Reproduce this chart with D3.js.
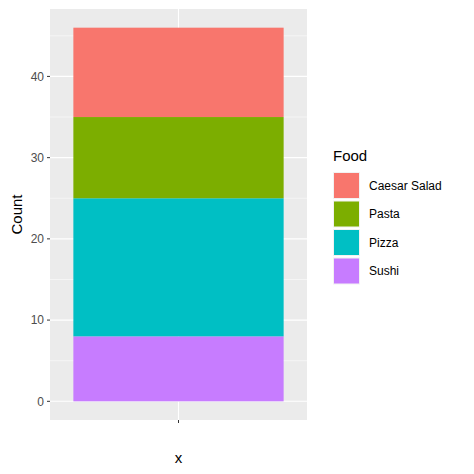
<!DOCTYPE html><html><head><script src="https://cdn.jsdelivr.net/npm/d3@7"></script>
<style>body{margin:0;background:#fff}text{font-family:"Liberation Sans",Arial,sans-serif}</style></head><body>
<svg width="474" height="474"></svg>
<script>
const foods=["Caesar Salad","Pasta","Pizza","Sushi"];
const counts=[11,10,17,8];
const colors=["#F8766D","#7CAE00","#00BFC4","#C77CFF"];
const yTicks=[0,10,20,30,40];
const svg=d3.select("svg");
const L=50,R=307,T=9,B=420;
const total=d3.sum(counts);
const y=d3.scaleLinear().domain([-total*0.05,total*1.05]).range([B,T]);
const x=d3.scaleBand().domain(["x"]).range([L,R]).padding(0.1);
svg.append("rect").attr("x",L).attr("y",T).attr("width",R-L).attr("height",B-T).attr("fill","#EBEBEB");
[5,15,25,35,45].forEach(v=>svg.append("line").attr("x1",L).attr("x2",R).attr("y1",y(v)).attr("y2",y(v)).attr("stroke","#fff").attr("stroke-width",0.5));
yTicks.forEach(v=>svg.append("line").attr("x1",L).attr("x2",R).attr("y1",y(v)).attr("y2",y(v)).attr("stroke","#fff").attr("stroke-width",1.1));
const cx=x("x")+x.bandwidth()/2;
svg.append("line").attr("x1",cx).attr("x2",cx).attr("y1",T).attr("y2",B).attr("stroke","#fff").attr("stroke-width",1.1);
// stack: Sushi at bottom
let base=0;
for(let i=foods.length-1;i>=0;i--){
 svg.append("rect").attr("x",x("x")).attr("width",x.bandwidth()).attr("y",y(base+counts[i])).attr("height",y(base)-y(base+counts[i])).attr("fill",colors[i]);
 base+=counts[i];
}
yTicks.forEach(v=>{
 svg.append("line").attr("x1",L-3).attr("x2",L).attr("y1",y(v)).attr("y2",y(v)).attr("stroke","#333");
 svg.append("text").attr("x",L-6).attr("y",y(v)).attr("dy","0.35em").attr("text-anchor","end").attr("font-size",12).attr("fill","#4D4D4D").text(v);
});
svg.append("line").attr("x1",cx).attr("x2",cx).attr("y1",B).attr("y2",B+3).attr("stroke","#333");
svg.append("text").attr("x",cx).attr("y",463).attr("text-anchor","middle").attr("font-size",15).text("x");
svg.append("text").attr("transform",`translate(22,${(T+B)/2}) rotate(-90)`).attr("text-anchor","middle").attr("font-size",15).text("Count");
svg.append("text").attr("x",333).attr("y",161).attr("font-size",15).text("Food");
foods.forEach((f,i)=>{
 const yy=172+i*28.5;
 svg.append("rect").attr("x",333).attr("y",yy).attr("width",27).attr("height",27).attr("fill","#F2F2F2");
 svg.append("rect").attr("x",334).attr("y",yy+1).attr("width",25).attr("height",25).attr("fill",colors[i]);
 svg.append("text").attr("x",369).attr("y",yy+13.5).attr("dy","0.35em").attr("font-size",12).text(f);
});
</script></body></html>
